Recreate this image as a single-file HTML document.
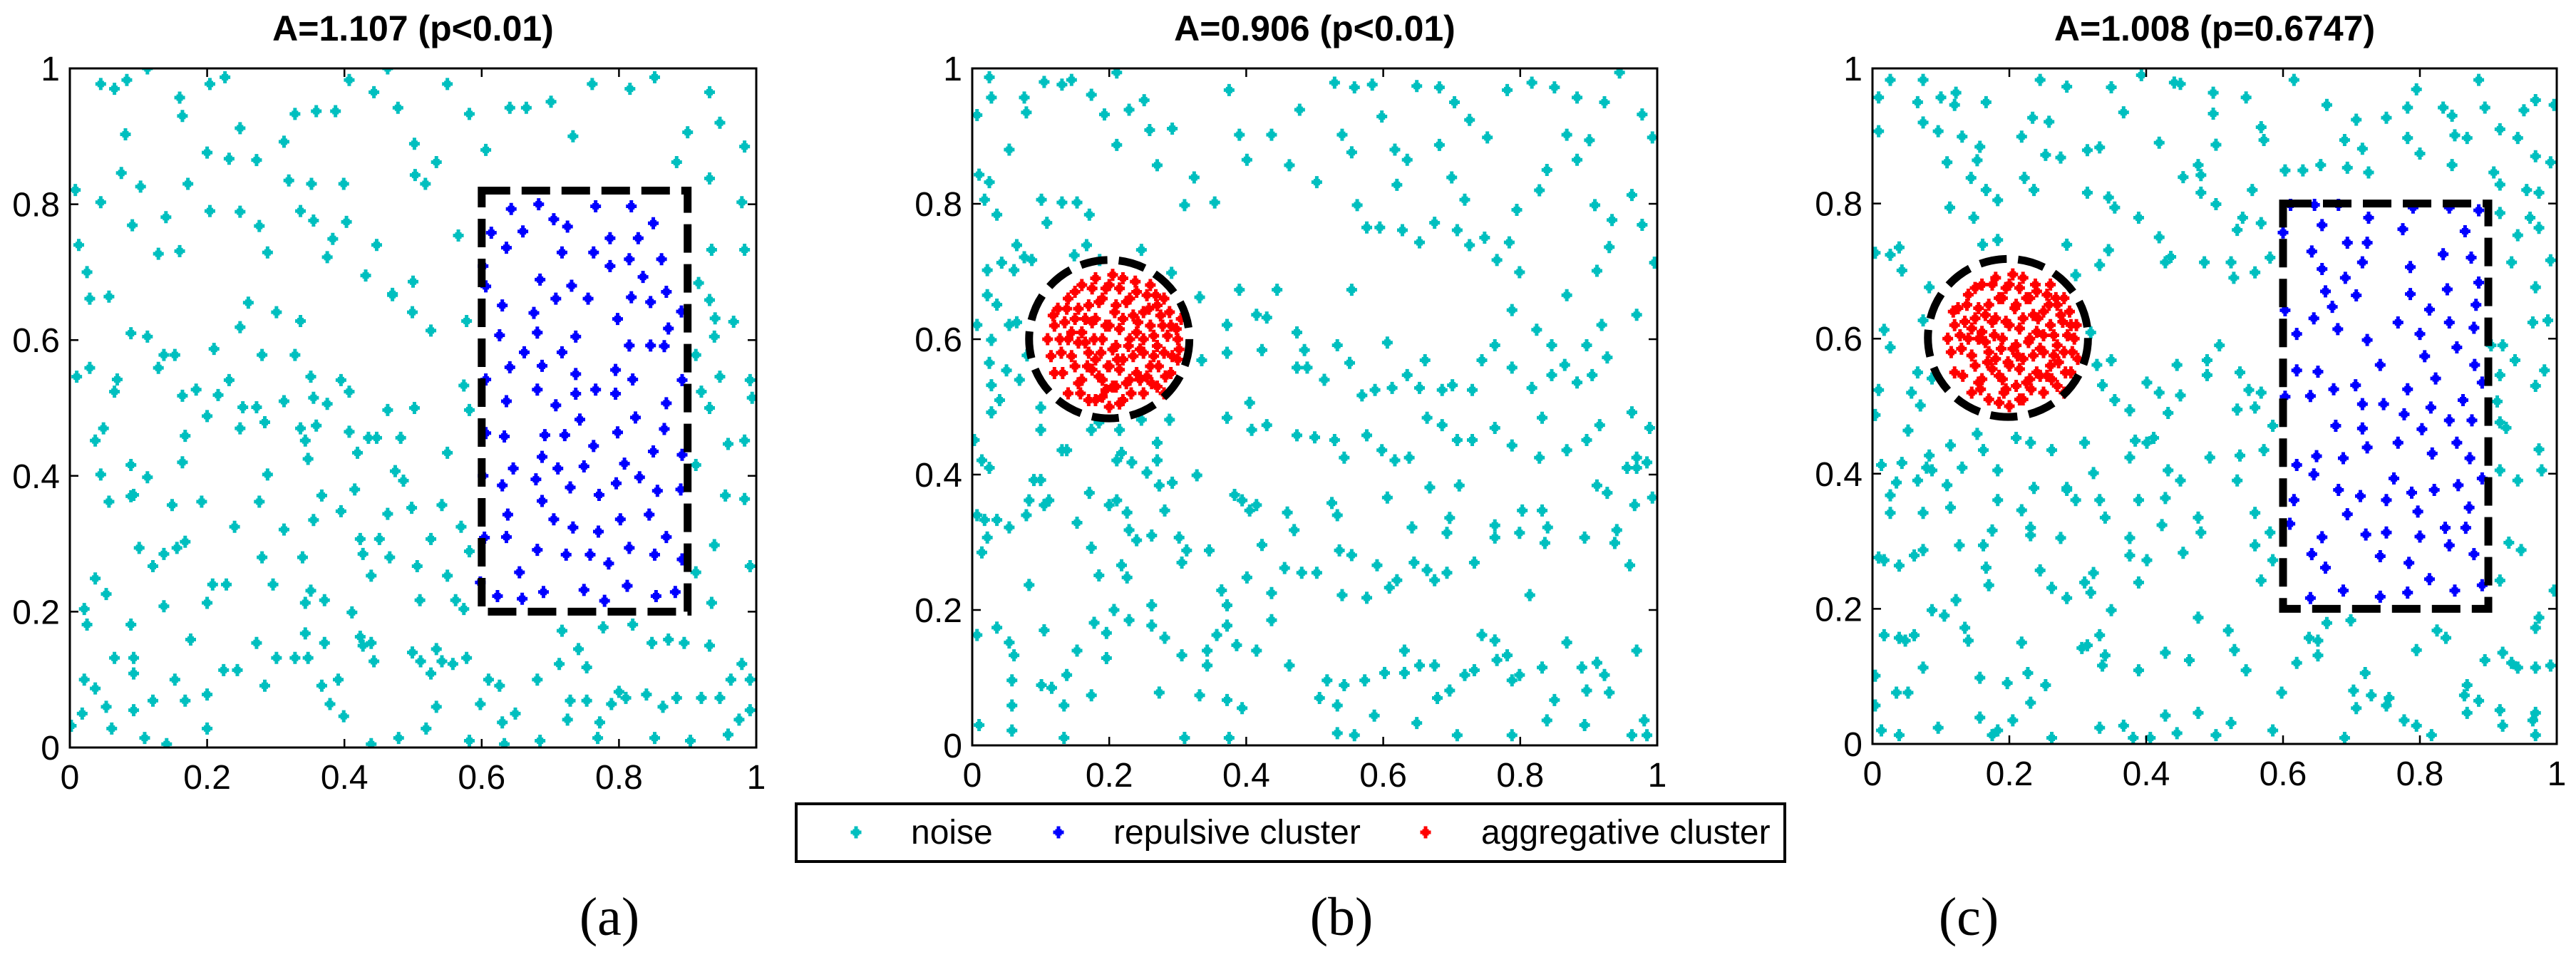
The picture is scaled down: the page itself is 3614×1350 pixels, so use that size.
<!DOCTYPE html>
<html><head><meta charset="utf-8"><title>Cluster scatter plots</title>
<style>
html,body{margin:0;padding:0;background:#fff;}
svg{display:block;}
text{font-family:"Liberation Sans",Arial,sans-serif;}
text.serif{font-family:"Liberation Serif",serif;}
</style></head>
<body>
<svg id="fig" xmlns="http://www.w3.org/2000/svg" width="3614" height="1350" viewBox="0 0 3614 1350">
<rect x="0" y="0" width="3614" height="1350" fill="#fff"/>
</svg>
<script>
const tickValues=[0,0.2,0.4,0.6,0.8,1];
const tickLabels=["0","0.2","0.4","0.6","0.8","1"];
const titles=["A=1.107 (p<0.01)","A=0.906 (p<0.01)","A=1.008 (p=0.6747)"];
const panelLabels=["(a)","(b)","(c)"];
const legendLabels=["noise","repulsive cluster","aggregative cluster"];
const rectA=[0.6,0.9,0.2,0.82];
const rectC=[0.6,0.9,0.2,0.8];
const circleB=[0.2,0.6,0.117];
const circleC=[0.198,0.601,0.117];
const noiseA=[[.045,.977],[.065,.97],[.083,.983],[.113,1],[.16,.957],[.164,.93],[.204,.977],[.226,.987],[.232,.867],[.248,.912],[.272,.865],[.312,.892],[.328,.933],[.359,.937],[.387,.937],[.407,.983],[.443,.965],[.463,1],[.478,.942],[.502,.889],[.518,.83],[.55,.977],[.582,.933],[.606,.88],[.641,.942],[.665,.942],[.701,.951],[.733,.9],[.761,.977],[.816,.97],[.852,.987],[.884,.862],[.9,.906],[.932,.965],[.947,.92],[.983,.885],[.979,.803],[.932,.838],
[.008,.821],[.013,.74],[.025,.7],[.029,.661],[.045,.803],[.057,.664],[.081,.903],[.075,.846],[.103,.826],[.091,.769],[.129,.727],[.14,.781],[.16,.731],[.172,.83],[.2,.876],[.204,.79],[.248,.789],[.276,.768],[.288,.729],[.319,.835],[.336,.79],[.352,.83],[.355,.776],[.375,.722],[.383,.749],[.399,.83],[.403,.774],[.431,.695],[.447,.74],[.47,.668],[.5,.686],[.503,.843],[.534,.862],[.566,.754],[.578,.628],
[.01,.546],[.029,.559],[.037,.452],[.049,.47],[.045,.402],[.065,.524],[.069,.542],[.089,.61],[.089,.416],[.093,.372],[.113,.605],[.129,.559],[.137,.578],[.153,.578],[.164,.518],[.164,.42],[.168,.459],[.184,.527],[.2,.488],[.21,.587],[.216,.519],[.232,.541],[.248,.619],[.248,.47],[.252,.501],[.26,.655],[.272,.501],[.28,.578],[.284,.479],[.301,.641],[.312,.51],[.328,.578],[.336,.628],[.336,.47],[.343,.452],[.347,.425],[.351,.546],[.355,.515],[.359,.474],[.375,.506],[.395,.541],[.407,.524],[.407,.465],[.419,.434],[.435,.456],[.447,.456],[.463,.497],[.47,.666],[.482,.456],[.502,.5],[.499,.641],[.526,.614],[.55,.434],[.574,.533],[.582,.497],
[.057,.362],[.089,.37],[.101,.294],[.113,.398],[.121,.267],[.137,.285],[.137,.208],[.149,.357],[.156,.294],[.168,.303],[.192,.362],[.2,.213],[.208,.24],[.228,.24],[.24,.325],[.276,.362],[.28,.28],[.288,.402],[.296,.24],[.312,.321],[.339,.28],[.343,.213],[.351,.231],[.355,.335],[.367,.371],[.371,.217],[.395,.348],[.415,.38],[.423,.307],[.427,.285],[.439,.253],[.451,.307],[.463,.344],[.466,.28],[.474,.407],[.486,.393],[.498,.353],[.506,.267],[.51,.217],[.526,.307],[.542,.357],[.55,.253],[.562,.217],[.57,.325],[.582,.289],[.574,.204],
[.002,.032],[.018,.05],[.021,.204],[.025,.181],[.021,.1],[.037,.249],[.037,.087],[.053,.226],[.053,.06],[.061,.028],[.065,.132],[.089,.181],[.093,.132],[.093,.109],[.093,.055],[.109,.014],[.121,.069],[.141,.005],[.153,.1],[.168,.069],[.176,.159],[.2,.078],[.2,.028],[.224,.114],[.244,.114],[.272,.154],[.284,.091],[.301,.132],[.328,.132],[.343,.168],[.347,.132],[.367,.091],[.371,.154],[.379,.064],[.391,.1],[.399,.046],[.411,.199],[.423,.163],[.427,.15],[.439,.154],[.443,.127],[.439,.005],[.479,.014],[.499,.14],[.511,.127],[.519,.028],[.526,.109],[.534,.145],[.534,.06],[.542,.127],[.558,.123],[.578,.132],[.582,.01],[.598,.064],[.61,.1],[.626,.091],[.63,.037],[.633,.005],[.649,.05],[.681,.1],[.685,.01],[.713,.123],[.717,.172],[.725,.041],[.729,.069],[.741,.145],[.753,.118],[.753,.069],[.769,.014],[.772,.037],[.777,.177],[.789,.064],[.8,.082],[.81,.073],[.82,.181],[.84,.078],[.848,.154],[.852,.014],[.864,.06],[.872,.159],[.884,.073],[.895,.154],[.904,.01],[.912,.258],[.92,.073],[.932,.15],[.935,.213],[.939,.298],[.947,.073],[.963,.1],[.959,.019],[.975,.041],[.979,.123],[.991,.1],[.991,.055],[.991,.267],[.983,.366],[.955,.371],
[.932,.659],[.94,.632],[.947,.546],[.959,.447],[.967,.627],[.983,.452],[.991,.541],[.994,.515],[.983,.733],[.935,.733],[.916,.684],[.912,.578],[.912,.416],[.92,.524],[.932,.5],[.939,.605]];
const blueA=[[.614,.758],[.643,.793],[.66,.76],[.683,.8],[.705,.778],[.725,.767],[.766,.797],[.787,.75],[.818,.797],[.828,.75],[.85,.772],[.602,.709],[.606,.679],[.636,.736],[.63,.651],[.685,.689],[.717,.729],[.731,.68],[.763,.729],[.787,.709],[.815,.719],[.835,.693],[.862,.719],[.869,.671],[.846,.656],[.818,.663],[.755,.661],[.708,.661],[.676,.64],[.626,.607],[.681,.611],[.662,.582],[.737,.605],[.717,.582],[.798,.631],[.815,.592],[.846,.592],[.872,.617],[.866,.591],[.891,.642],[.606,.542],[.641,.56],[.681,.527],[.688,.562],[.737,.55],[.737,.521],[.766,.527],[.795,.521],[.795,.556],[.82,.542],[.869,.507],[.892,.541],[.636,.51],[.708,.504],[.743,.483],[.824,.486],[.866,.469],[.606,.463],[.633,.458],[.692,.46],[.721,.46],[.763,.444],[.798,.464],[.85,.436],[.892,.431],[.646,.411],[.688,.428],[.711,.411],[.749,.414],[.808,.418],[.602,.4],[.63,.386],[.679,.395],[.729,.383],[.771,.372],[.796,.389],[.83,.398],[.856,.378],[.638,.343],[.688,.363],[.705,.336],[.733,.324],[.77,.318],[.802,.336],[.844,.343],[.89,.38],[.604,.309],[.636,.31],[.681,.291],[.723,.284],[.758,.284],[.785,.271],[.815,.294],[.852,.284],[.869,.31],[.892,.277],[.655,.258],[.598,.243],[.623,.223],[.659,.219],[.69,.229],[.749,.232],[.779,.216],[.812,.238],[.854,.223],[.882,.229]];
const noiseB=[[.025,.987],[.028,.957],[.054,.88],[.076,.957],[.079,.935],[.105,.98],[.131,.976],[.145,.983],[.174,.961],[.193,.932],[.211,.994],[.211,.887],[.229,.939],[.251,.953],[.259,.909],[.27,.857],[.292,.911],[.31,.798],[.324,.839],[.354,.802],[.375,.968],[.39,.902],[.401,.865],[.437,.902],[.463,.857],[.478,.939],[.503,.832],[.529,.979],[.54,.902],[.558,.972],[.554,.876],[.584,.976],[.598,.929],[.617,.88],[.649,.974],[.682,.972],[.704,.95],[.726,.924],[.752,.898],[.781,.968],[.817,.979],[.85,.972],[.883,.957],[.923,.95],[.945,.994],[.978,.932],[.993,.898],[.868,.902],[.901,.894],[.883,.865],[.839,.85],[.828,.82],[.795,.791],[.784,.743],[.748,.75],[.719,.806],[.7,.839],[.682,.887],[.635,.865],[.62,.828],[.562,.798],[.576,.765],[.595,.765],[.628,.761],[.653,.743],[.675,.772],[.708,.761],[.726,.739],[.766,.717],[.799,.699],[.788,.643],[.824,.614],[.846,.591],[.868,.665],[.897,.591],[.919,.621],[.927,.573],[.912,.701],[.93,.736],[.97,.636],[.978,.769],[.996,.713],[.963,.813],[.934,.776],[.909,.798],
[.372,.621],[.39,.673],[.415,.636],[.43,.632],[.423,.584],[.445,.673],[.474,.61],[.474,.558],[.485,.584],[.489,.558],[.514,.54],[.533,.591],[.551,.565],[.554,.673],[.569,.517],[.588,.525],[.606,.595],[.613,.528],[.635,.547],[.653,.528],[.661,.569],[.686,.525],[.701,.532],[.73,.525],[.744,.569],[.763,.591],[.788,.558],[.817,.528],[.846,.547],[.865,.562],[.883,.536],[.905,.547],
[.372,.484],[.405,.506],[.408,.466],[.43,.473],[.474,.458],[.5,.455],[.529,.451],[.543,.425],[.576,.458],[.598,.436],[.617,.421],[.638,.425],[.664,.484],[.686,.473],[.708,.451],[.73,.451],[.763,.469],[.788,.443],[.828,.425],[.832,.484],[.868,.436],[.897,.451],[.916,.473],[.963,.492],[.989,.469],[.97,.425],[.985,.418],[.956,.41],
[.003,.451],[.014,.421],[.025,.41],[.007,.34],[.018,.333],[.022,.307],[.036,.333],[.014,.285],[.054,.322],[.079,.34],[.083,.362],[.09,.392],[.1,.392],[.105,.355],[.112,.362],[.138,.436],[.153,.329],[.171,.373],[.174,.292],[.185,.251],[.2,.355],[.211,.421],[.211,.362],[.218,.266],[.226,.344],[.229,.318],[.226,.248],[.24,.303],[.262,.31],[.273,.384],[.281,.347],[.292,.388],[.302,.307],[.306,.27],[.313,.288],[.328,.399],[.346,.288],[.364,.229],[.372,.207],[.383,.37],[.394,.362],[.405,.347],[.415,.355],[.401,.248],[.423,.296],[.437,.225],[.46,.344],[.47,.318],[.456,.262],[.481,.255],[.503,.255],[.525,.358],[.533,.34],[.536,.288],[.54,.222],[.554,.281],[.576,.218],[.591,.266],[.606,.366],[.609,.233],[.62,.244],[.642,.322],[.645,.27],[.664,.259],[.675,.244],[.668,.381],[.697,.336],[.693,.314],[.711,.384],[.733,.27],[.763,.325],[.763,.307],[.799,.314],[.803,.347],[.832,.347],[.836,.299],[.84,.322],[.894,.307],[.912,.384],[.927,.373],[.938,.299],[.941,.318],[.96,.266],[.967,.355],[.97,.41],[.993,.366],
[.007,.163],[.01,.03],[.036,.174],[.054,.152],[.061,.133],[.058,.096],[.058,.059],[.058,.022],[.083,.237],[.105,.17],[.101,.089],[.116,.085],[.138,.104],[.134,.059],[.134,.011],[.153,.14],[.174,.074],[.178,.181],[.196,.166],[.196,.129],[.207,.2],[.229,.185],[.262,.207],[.262,.177],[.273,.078],[.281,.159],[.306,.133],[.31,.011],[.332,.074],[.343,.14],[.343,.118],[.357,.163],[.372,.177],[.372,.067],[.375,.011],[.386,.148],[.394,.055],[.415,.14],[.437,.185],[.463,.118],[.507,.07],[.518,.096],[.533,.059],[.543,.089],[.533,.018],[.558,.015],[.573,.096],[.587,.044],[.602,.107],[.631,.14],[.631,.107],[.649,.033],[.653,.118],[.675,.118],[.679,.07],[.693,.255],[.697,.081],[.708,.015],[.719,.104],[.733,.111],[.744,.163],[.763,.155],[.766,.126],[.781,.133],[.788,.096],[.788,.015],[.799,.104],[.814,.222],[.832,.115],[.839,.037],[.85,.067],[.868,.152],[.89,.115],[.897,.081],[.894,.03],[.912,.122],[.93,.078],[.923,.104],[.963,.015],[.97,.14],[.981,.037],[.985,.015],
[.007,.931],[.01,.843],[.018,.806],[.025,.832],[.036,.784],[.022,.702],[.043,.713],[.061,.702],[.065,.739],[.076,.721],[.087,.717],[.022,.665],[.036,.651],[.007,.621],[.028,.599],[.054,.621],[.065,.625],[.025,.565],[.05,.554],[.069,.54],[.028,.532],[.04,.51],[.028,.492],[.1,.499],[.1,.466],[.131,.436],[.08,.576],[.131,.802],[.101,.806],[.109,.772],[.153,.802],[.171,.784],[.167,.739],[.186,.717],[.149,.724],[.247,.732],[.291,.698],[.332,.662],[.335,.569],[.372,.58],[.174,.466],[.215,.466],[.247,.481],[.27,.447],[.288,.481],[.27,.421],[.218,.432],[.233,.418],[.255,.403],[.185,.477]];
const redB=[[.12,.62],[.13,.58],[.12,.55],[.14,.66],[.15,.63],[.14,.6],[.15,.56],[.14,.52],[.16,.68],[.17,.65],[.16,.61],[.17,.58],[.16,.54],[.17,.51],[.18,.69],[.19,.66],[.18,.63],[.19,.6],[.18,.57],[.19,.54],[.18,.51],[.2,.68],[.21,.65],[.2,.62],[.21,.59],[.2,.56],[.21,.53],[.2,.5],[.22,.69],[.23,.66],[.22,.63],[.23,.6],[.22,.57],[.23,.54],[.22,.51],[.24,.67],[.25,.64],[.24,.61],[.25,.58],[.24,.55],[.25,.52],[.26,.68],[.27,.65],[.26,.62],[.27,.59],[.26,.56],[.27,.53],[.28,.66],[.29,.62],[.28,.58],[.29,.55],[.28,.52],[.3,.6],[.3,.57],[.11,.6],[.125,.645],[.135,.625],[.145,.575],[.155,.645],[.165,.595],[.175,.625],[.185,.545],[.195,.675],[.205,.585],[.215,.615],[.225,.535],[.235,.635],[.245,.585],[.255,.545],[.265,.605],[.275,.635],[.285,.605],[.175,.555],[.195,.525],[.215,.675],[.235,.575],[.255,.665],[.215,.555],[.155,.535],[.265,.575],[.305,.63],
[.115,.575],[.118,.635],[.128,.6],[.132,.55],[.138,.645],[.145,.61],[.15,.67],[.155,.595],[.158,.52],[.165,.63],[.168,.56],[.175,.675],[.178,.6],[.185,.655],[.188,.58],[.19,.515],[.195,.62],[.198,.56],[.205,.695],[.208,.64],[.212,.57],[.215,.505],[.225,.655],[.228,.59],[.232,.52],[.238,.685],[.242,.625],[.245,.54],[.25,.6],[.258,.645],[.262,.535],[.268,.665],[.272,.56],[.278,.62],[.282,.545],[.288,.64],[.292,.575],[.298,.615],[.302,.585],[.205,.53]];
const noiseC=[[.009,.957],[.026,.983],[.066,.95],[.074,.983],[.1,.957],[.122,.964],[.12,.946],[.074,.92],[.096,.907],[.131,.899],[.009,.907],[.166,.95],[.157,.884],[.153,.864],[.109,.861],[.144,.838],[.166,.82],[.183,.805],[.113,.794],[.148,.779],[.218,.899],[.234,.927],[.258,.921],[.284,.973],[.245,.983],[.253,.872],[.275,.868],[.236,.82],[.222,.838],[.314,.879],[.332,.883],[.349,.972],[.367,.935],[.393,.99],[.419,.89],[.441,.979],[.45,.977],[.498,.964],[.498,.933],[.546,.957],[.502,.887],[.476,.857],[.454,.839],[.389,.779],[.419,.75],[.345,.809],[.354,.794],[.314,.816],[.284,.739],[.332,.709],[.345,.731],[.297,.694],[.428,.713],[.436,.721],[.485,.713],[.528,.69],[.559,.698],[.581,.72],[.524,.713],[.541,.779],[.533,.761],[.568,.771],[.502,.799],[.48,.816],[.48,.842],[.555,.82],[.568,.913],[.572,.894],[.603,.849],[.629,.849],[.616,.983],[.664,.946],[.655,.857],[.694,.853],[.69,.894],[.707,.924],[.725,.846],[.716,.881],[.751,.927],[.782,.942],[.782,.897],[.795,.969],[.8,.874],[.834,.942],[.847,.93],[.851,.901],[.847,.857],[.869,.897],[.886,.983],[.895,.942],[.917,.91],[.943,.897],[.952,.938],[.969,.953],[.996,.946],[.991,.861],[.969,.87],[.908,.846],[.917,.828],[.956,.82],[.974,.816],[.961,.779],[.974,.764],[.943,.753],[.917,.786],[.934,.713],[.969,.676],[.991,.716],[.965,.624],[.987,.627],[.921,.59],[.904,.59],[.917,.546],[.939,.568],[.982,.553],[.969,.53],[.913,.507],[.917,.476],[.926,.468],[.974,.436],[.978,.405],[.917,.405],[.943,.39],[.948,.287],[.93,.298],[.917,.242],[.996,.227],[.974,.187],[.969,.172],[.921,.135],[.943,.113],[.934,.12],[.969,.113],[.991,.116],[.895,.124],[.886,.064],[.869,.046],[.869,.087],[.865,.072],[.917,.05],[.921,.027],[.969,.046],[.965,.035],[.969,.013],[.825,.168],[.838,.157],[.795,.139],[.795,.027],[.817,.013],[.777,.035],[.755,.068],[.751,.057],[.729,.072],[.72,.105],[.703,.079],[.707,.053],[.69,.009],[.699,.183],[.664,.179],[.638,.157],[.651,.153],[.651,.131],[.62,.12],[.598,.076],[.585,.02],[.546,.109],[.529,.139],[.52,.168],[.524,.031],[.502,.013],[.476,.046],[.463,.124],[.476,.187],[.428,.135],[.445,.016],[.428,.042],[.406,.009],[.389,.109],[.381,.009],[.367,.027],[.332,.024],[.336,.116],[.34,.131],[.314,.146],[.332,.161],[.306,.142],[.262,.009],[.253,.087],[.227,.105],[.231,.061],[.218,.15],[.197,.09],[.205,.035],[.183,.02],[.175,.013],[.157,.098],[.157,.039],[.14,.153],[.135,.172],[.096,.024],[.074,.113],[.052,.076],[.035,.076],[.039,.013],[.013,.02],[.004,.057],[.004,.101],[.017,.161],[.039,.157],[.048,.153],[.061,.161],[.087,.198],[.105,.19],[.122,.213],[.009,.276],[.017,.272],[.039,.264],[.061,.279],[.074,.287],[.127,.294],[.166,.261],[.17,.235],[.162,.294],[.175,.316],[.183,.361],[.218,.346],[.231,.32],[.231,.309],[.236,.379],[.245,.257],[.262,.231],[.275,.305],[.284,.216],[.284,.376],[.297,.361],[.31,.239],[.319,.224],[.323,.253],[.332,.361],[.34,.335],[.349,.198],[.376,.305],[.376,.279],[.389,.361],[.389,.239],[.401,.272],[.423,.324],[.428,.364],[.432,.405],[.454,.283],[.45,.39],[.476,.335],[.48,.313],[.493,.424],[.533,.39],[.537,.427],[.559,.294],[.568,.242],[.585,.272],[.581,.313],[.559,.342],[.572,.435],[.585,.471],[.559,.498],[.568,.52],[.55,.524],[.537,.55],[.533,.495],[.507,.59],[.489,.568],[.489,.546],[.445,.561],[.419,.52],[.401,.535],[.432,.49],[.45,.516],[.376,.494],[.354,.509],[.401,.446],[.384,.449],[.376,.424],[.411,.453],[.349,.568],[.336,.531],[.328,.561],[.319,.609],[.31,.446],[.323,.401],[.284,.379],[.262,.435],[.231,.446],[.21,.453],[.183,.405],[.162,.435],[.153,.459],[.114,.442],[.083,.427],[.079,.409],[.066,.39],[.052,.464],[.035,.387],[.026,.368],[.026,.342],[.004,.487],[.013,.413],[.087,.405],[.109,.383],[.114,.35],[.131,.409],[.074,.342],[.057,.52],[.026,.587],[.017,.613],[.026,.724],[.039,.735],[.043,.701],[.004,.727],[.066,.55],[.087,.541],[.07,.501],[.043,.416],[.074,.627],[.009,.524],[.083,.676],[.161,.739],[.183,.746]];
const blueC=[[.611,.798],[.646,.798],[.681,.798],[.725,.779],[.79,.794],[.843,.794],[.886,.79],[.6,.757],[.657,.768],[.694,.742],[.723,.742],[.775,.762],[.834,.725],[.866,.759],[.875,.72],[.642,.729],[.657,.703],[.691,.69],[.716,.713],[.786,.706],[.662,.67],[.707,.664],[.672,.647],[.786,.666],[.814,.643],[.84,.673],[.886,.683],[.882,.65],[.603,.642],[.645,.63],[.68,.614],[.768,.624],[.8,.607],[.843,.624],[.879,.616],[.62,.607],[.723,.598],[.854,.587],[.807,.574],[.742,.561],[.88,.561],[.62,.553],[.651,.551],[.706,.531],[.674,.525],[.64,.515],[.782,.525],[.823,.541],[.891,.535],[.603,.514],[.716,.503],[.747,.503],[.863,.509],[.677,.471],[.716,.467],[.777,.488],[.803,.466],[.816,.498],[.843,.479],[.876,.479],[.723,.439],[.768,.446],[.818,.43],[.854,.446],[.62,.413],[.649,.426],[.688,.423],[.873,.423],[.645,.399],[.762,.393],[.891,.393],[.681,.376],[.713,.367],[.751,.361],[.788,.372],[.821,.376],[.856,.383],[.616,.361],[.694,.34],[.797,.344],[.872,.35],[.61,.326],[.721,.31],[.751,.313],[.657,.306],[.8,.307],[.837,.32],[.867,.32],[.843,.294],[.642,.281],[.662,.261],[.742,.278],[.784,.268],[.879,.281],[.814,.244],[.891,.235],[.688,.227],[.64,.216],[.742,.218],[.782,.224],[.851,.227]];
const redC=[[.12,.62],[.13,.585],[.12,.55],[.14,.665],[.15,.63],[.14,.6],[.15,.56],[.145,.52],[.16,.68],[.17,.65],[.16,.61],[.17,.58],[.16,.54],[.17,.51],[.18,.69],[.19,.66],[.18,.63],[.19,.6],[.18,.57],[.19,.54],[.185,.505],[.2,.68],[.21,.65],[.2,.62],[.21,.59],[.2,.56],[.21,.53],[.2,.5],[.22,.69],[.23,.66],[.22,.63],[.23,.6],[.22,.57],[.23,.54],[.22,.51],[.24,.67],[.25,.64],[.24,.61],[.25,.58],[.24,.55],[.25,.52],[.26,.68],[.27,.65],[.26,.62],[.27,.59],[.26,.56],[.27,.53],[.28,.66],[.29,.62],[.28,.58],[.29,.55],[.28,.52],[.295,.6],[.3,.57],[.11,.6],[.125,.645],[.135,.625],[.145,.575],[.155,.645],[.165,.595],[.175,.625],[.185,.545],[.195,.675],[.205,.585],[.215,.615],[.225,.535],[.235,.635],[.245,.585],[.255,.545],[.265,.605],[.275,.635],[.285,.605],[.175,.555],[.195,.525],[.215,.675],[.235,.575],[.255,.665],[.215,.555],[.155,.535],[.265,.575],
[.115,.58],[.118,.64],[.128,.605],[.132,.545],[.138,.65],[.145,.615],[.15,.675],[.155,.6],[.158,.525],[.165,.635],[.168,.565],[.175,.68],[.178,.605],[.185,.66],[.188,.585],[.192,.52],[.195,.625],[.198,.565],[.205,.695],[.208,.645],[.212,.575],[.215,.51],[.225,.66],[.228,.595],[.232,.525],[.238,.68],[.242,.63],[.245,.545],[.25,.605],[.258,.65],[.262,.54],[.268,.66],[.272,.565],[.278,.625],[.282,.55],[.288,.64],[.292,.58],[.298,.62]];

const NS="http://www.w3.org/2000/svg";
const svg=document.getElementById('fig');
const COL={noise:"#00bfbf",rep:"#0000ff",agg:"#ff0000"};
function el(tag,attrs,parent){const e=document.createElementNS(NS,tag);for(const k in attrs)e.setAttribute(k,attrs[k]);(parent||svg).appendChild(e);return e;}
function markerPath(cx,cy){return `M${cx-7.5},${cy-2.5}h15v5h-15z M${cx-2.5},${cy-8.5}h5v17h-5z M${cx-4.5},${cy-4.5}h9v9h-9z`;}

const panels=[
 {x0:98,x1:1061,y0:96,y1:1049,title:titles[0],label:panelLabels[0],labelX:855,noise:noiseA,blue:blueA,red:null,rect:rectA,circle:null},
 {x0:1364,x1:2325,y0:96,y1:1046,title:titles[1],label:panelLabels[1],labelX:1882,noise:noiseB,blue:null,red:redB,rect:null,circle:circleB},
 {x0:2627,x1:3587,y0:96,y1:1044,title:titles[2],label:panelLabels[2],labelX:2762,noise:noiseC,blue:blueC,red:redC,rect:rectC,circle:circleC}
];

panels.forEach((p,pi)=>{
 const sx=v=>p.x0+v*(p.x1-p.x0);
 const sy=v=>p.y1-v*(p.y1-p.y0);
 const g=el('g',{});
 
 
 const clipId='clip'+pi;
 const cp=el('clipPath',{id:clipId},g);
 el('rect',{x:p.x0,y:p.y0,width:p.x1-p.x0,height:p.y1-p.y0},cp);
 const t=el('text',{x:(p.x0+p.x1)/2,y:57,'text-anchor':'middle','font-size':50,'font-weight':'bold'},g);
 t.textContent=p.title;
 
 
 const pts=el('g',{'clip-path':`url(#${clipId})`},g);
 
 
 function drawSeries(arr,color,name){
  arr.forEach(d=>{
   const m=el('path',{d:markerPath(sx(d[0]),sy(d[1])),fill:color},pts);
   
   
  });
 }
 drawSeries(p.noise,COL.noise,'noise-point');
 if(p.blue)drawSeries(p.blue,COL.rep,'repulsive-point');
 if(p.red)drawSeries(p.red,COL.agg,'aggregative-point');
 if(p.rect){
  const r=el('rect',{x:sx(p.rect[0]),y:sy(p.rect[3]),width:sx(p.rect[1])-sx(p.rect[0]),height:sy(p.rect[2])-sy(p.rect[3]),fill:'none',stroke:'#000','stroke-width':11,'stroke-dasharray':'40 16'},g);
  
  
 }
 if(p.circle){
  const c=el('ellipse',{cx:sx(p.circle[0]),cy:sy(p.circle[1]),rx:p.circle[2]*(p.x1-p.x0),ry:p.circle[2]*(p.y1-p.y0),fill:'none',stroke:'#000','stroke-width':11,'stroke-dasharray':'38 16'},g);
  
  
 }
 const ax=el('rect',{x:p.x0,y:p.y0,width:p.x1-p.x0,height:p.y1-p.y0,fill:'none',stroke:'#000','stroke-width':3},g);
 
 
 tickValues.forEach((v,i)=>{
  const X=sx(v),Y=sy(v);
  const tk=el('path',{d:`M${X},${p.y1}v-12 M${X},${p.y0}v12 M${p.x0},${Y}h12 M${p.x1},${Y}h-12`,stroke:'#000','stroke-width':2.5,fill:'none'},g);
  
  
  const xl=el('text',{x:X,y:p.y1+58,'text-anchor':'middle','font-size':48},g);
  xl.textContent=tickLabels[i];
  
  
  const yl=el('text',{x:p.x0-14,y:Y+17,'text-anchor':'end','font-size':48},g);
  yl.textContent=tickLabels[i];
  
  
 });
 const lb=el('text',{x:p.labelX,y:1312,'text-anchor':'middle','font-size':76,'class':'serif',style:'font-family:"Liberation Serif",serif'},svg);
 lb.textContent=p.label;
 
 
});

const lg=el('g',{});


const lbox=el('rect',{x:1117,y:1128,width:1387,height:81,fill:'#fff',stroke:'#000','stroke-width':4},lg);


const legendColors=[COL.noise,COL.rep,COL.agg];
const legendMarkerX=[1201,1485,2000];
const legendTextX=[1278,1562,2078];
legendLabels.forEach((s,i)=>{
 const m=el('path',{d:markerPath(legendMarkerX[i],1168),fill:legendColors[i]},lg);
 
 
 const t=el('text',{x:legendTextX[i],y:1184,'font-size':48},lg);
 t.textContent=s;
 
 
});
</script>
</body></html>
